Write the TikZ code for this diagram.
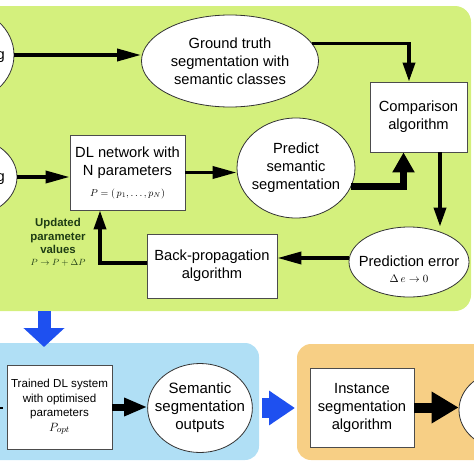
\documentclass[tikz,border=0pt]{standalone}
\usepackage{fontspec}
\setmainfont{Liberation Sans}
\usepackage{amsmath}
\usetikzlibrary{arrows.meta, shapes.geometric}
\definecolor{fundoverde}{RGB}{212,240,125}
\definecolor{fundoazul}{RGB}{176,223,245}
\definecolor{fundolaranja}{RGB}{247,207,133}
\definecolor{setaazul}{RGB}{30,80,240}
\definecolor{verdeescuro}{RGB}{30,60,20}
\tikzset{
  caixa/.style={draw=black!70, line width=0.8pt, fill=white, inner sep=0pt, align=center, font=\fontsize{14.7}{18}\selectfont},
  elipse/.style={ellipse, draw=black!80, line width=0.8pt, fill=white, inner sep=0pt, align=center, font=\fontsize{14.7}{18}\selectfont},
  seta/.style={line width=3.6pt, -{Triangle[length=24pt,width=12pt]}},
  setavert/.style={line width=3.6pt, -{Triangle[length=19pt,width=12pt]}}
}
\begin{document}
\begin{tikzpicture}[x=1pt, y=-1pt]
    \useasboundingbox (0,0) rectangle (474,474);
    \clip (0,0) rectangle (474,474);
    \fill[fundoverde, rounded corners=16pt] (-20,6) rectangle (471,311); % painel de treino
    \fill[fundoazul, rounded corners=14pt] (-20,343) rectangle (259,460); % painel do sistema treinado
    \fill[fundolaranja, rounded corners=14pt] (297,344) rectangle (494,460); % painel de instancias

    \node[elipse, minimum width=108pt, minimum height=95pt] (img1) at (-40,55) {};
    \node[anchor=base east, inner sep=0pt, font=\fontsize{14.7}{18}\selectfont] (img1txt) at (5,59) {g};
    \node[elipse, minimum width=104pt, minimum height=80pt] (img2) at (-35,177) {};
    \node[anchor=base east, inner sep=0pt, font=\fontsize{14.7}{18}\selectfont] (img2txt) at (5,181) {g};

    \node[elipse, minimum width=177pt, minimum height=92pt] (gt) at (230,61) {Ground truth\\segmentation with\\semantic classes};
    \node[caixa, minimum width=97pt, minimum height=70pt] (cmp) at (418.5,117) {Comparison\\algorithm};
    \node[caixa, minimum width=115pt, minimum height=75pt] (dl) at (127.5,172.5) {DL network with\\N parameters\\[3pt]{\fontsize{10}{12}\selectfont $P=(\,p_1,\dots,p_N)$}};
    \node[elipse, inner xsep=-3pt, minimum width=118pt, minimum height=100pt] (pred) at (296,168) {Predict\\semantic\\segmentation};
    \node[elipse, minimum width=120pt, minimum height=70pt] (err) at (409,262) {};
    \node[align=center, inner sep=0pt, font=\fontsize{14.7}{16}\selectfont] (errtxt) at (409,269) {Prediction error\\{\fontsize{11}{13}\selectfont $\Delta\, e\rightarrow 0$}};
    \node[caixa, minimum width=130pt, minimum height=64pt] (bp) at (212,266) {Back-propagation\\algorithm};
    \node[align=center, inner sep=0pt, font=\fontsize{11.4}{13.5}\selectfont\bfseries, text=verdeescuro] (upd) at (58,236) {Updated\\parameter\\values};
    \node[inner sep=0pt, font=\fontsize{9}{11}\selectfont, text=verdeescuro] (updform) at (58,263) {$P\rightarrow P+\Delta P$};

    \node[caixa, minimum width=105pt, minimum height=84pt, font=\fontsize{11.6}{14.5}\selectfont] (trained) at (59.5,407) {Trained DL system\\with optimised\\parameters\\{\fontsize{13}{14}\selectfont $P_{opt}$}};
    \node[elipse, inner xsep=-8pt, minimum width=104pt, minimum height=89pt, font=\fontsize{15}{18}\selectfont] (semout) at (200,408) {Semantic\\segmentation\\outputs};
    \node[caixa, minimum width=104pt, minimum height=79pt] (inst) at (362,407.5) {Instance\\segmentation\\algorithm};
    \node[elipse, minimum width=92pt, minimum height=78pt] (outR) at (505,410) {};

    \draw[seta] (img1.east) -- (img1.east -| gt.west); % imagem -> verdade
    \draw[setavert] (gt.12) -| ([xshift=-9.5pt]cmp.north); % verdade -> comparacao
    \draw[seta] (img2.east) -- (img2.east -| dl.west); % imagem -> rede
    \draw[seta] (dl.east) -- (dl.east -| pred.west); % rede -> predicao
    \draw[line width=7pt, -{Triangle[length=20pt,width=21pt]}] (pred.-18) -| ([xshift=-15pt]cmp.south); % seta grossa
    \draw[setavert] ([xshift=21.5pt]cmp.south) -- ([xshift=21.5pt]cmp.south |- err.north); % comparacao -> erro
    \draw[seta] ([yshift=4pt]err.west) -- ([yshift=4pt]err.west -| bp.east); % erro -> retropropagacao
    \draw[setavert] ([yshift=3pt]bp.west) -| ([xshift=-27.5pt]dl.south); % atualizacao dos parametros

    \coordinate (entrada) at (-10,408);
    \coordinate (fimentrada) at (3,408);
    \draw[line width=2pt] (entrada) -- (fimentrada); % entrada cortada
    \draw[line width=7pt, -{Triangle[length=23pt,width=17pt]}] (trained.east) -- (trained.east -| semout.west);
    \draw[line width=10pt, -{Triangle[length=27pt,width=30pt]}] (inst.east) -- (inst.east -| outR.west);

    \coordinate (azulcima) at (44,311);
    \coordinate (azulbaixo) at (44,347);
    \draw[setaazul, line width=13pt, -{Triangle[length=19pt,width=40pt]}] (azulcima) -- (azulbaixo); % passa ao sistema treinado
    \coordinate (azulesq) at (262,408);
    \coordinate (azuldir) at (295,408);
    \draw[setaazul, line width=20pt, -{Triangle[length=26pt,width=33pt]}] (azulesq) -- (azuldir); % passa as instancias
\end{tikzpicture}
\end{document}
